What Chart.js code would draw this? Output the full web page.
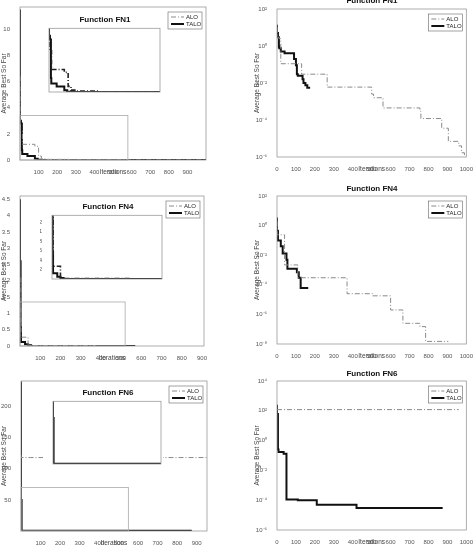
<!DOCTYPE html>
<html>
<head>
<meta charset="utf-8">
<script src="https://cdn.jsdelivr.net/npm/chart.js@4.4.0/dist/chart.umd.min.js"></script>
<style>
  body { margin: 0; background: #fff; width: 474px; height: 547px; position: relative; overflow: hidden; font-family: "Liberation Sans", Arial, sans-serif; }
  canvas { position: absolute; }
  .ttl { position: absolute; font-size: 8px; font-weight: bold; color: #111; transform: translateX(-50%); white-space: nowrap; z-index: 5; }
</style>
</head>
<body>
<div class="ttl" style="left:105px;top:15px">Function FN1</div>
<div class="ttl" style="left:372px;top:-4px">Function FN1</div>
<div class="ttl" style="left:108px;top:202px">Function FN4</div>
<div class="ttl" style="left:372px;top:184px">Function FN4</div>
<div class="ttl" style="left:108px;top:388px">Function FN6</div>
<div class="ttl" style="left:372px;top:369px">Function FN6</div>
<script>
// ---- data (iteration where the best-so-far value changes, and the value) ----
const fn1AloX = [0, 13, 80, 100, 115, 135, 260, 300, 1000];
const fn1AloY = [6.4, 2.2, 1.2, 1.05, 0.3, 0.1, 0.05, 0.0, 0.0];
const fn1TaloX = [0, 5, 10, 12, 40, 80, 95, 110, 120, 1000];
const fn1TaloY = [11.5, 3.0, 2.8, 0.75, 0.45, 0.3, 0.1, 0.02, 0.0, 0.0];

const fn1LogAloX = [0, 10, 20, 130, 265, 500, 510, 560, 755, 760, 870, 905, 960, 975, 990, 1000];
const fn1LogAloY = [10, 3, 2.5, 0.11, 0.03, 0.006, 0.0025, 0.0016, 4.5e-4, 3e-4, 1.2e-4, 3.6e-5, 7e-6, 4e-6, 1.7e-6, 1.2e-6];
const fn1LogTaloX = [0, 5, 10, 12, 20, 40, 90, 100, 105, 110, 135, 140, 150, 160, 170, 175];
const fn1LogTaloY = [14, 5, 3, 0.9, 0.75, 0.5, 0.4, 0.2, 0.09, 0.03, 0.025, 0.016, 0.01, 0.0075, 0.0055, 0.0055];

const fn4AloX = [5, 40, 110, 375];
const fn4AloY = [2.1, 0.27, 0.01, 0.01];
const fn4TaloX = [0, 3, 5, 25, 40, 55, 70, 570];
const fn4TaloY = [4.5, 2.6, 0.57, 0.12, 0.05, 0.02, 0.0, 0.0];

const fn4LogAloX = [0, 40, 110, 370, 505, 600, 665, 755, 785, 820, 905];
const fn4LogAloY = [1.9, 0.24, 0.0022, 3e-4, 2.5e-5, 1.8e-5, 2e-6, 2.5e-7, 1.5e-7, 1.5e-8, 1.5e-8];
const fn4LogTaloX = [0, 5, 20, 30, 50, 55, 105, 115, 125, 130, 165];
const fn4LogTaloY = [3.5, 0.45, 0.1, 0.04, 0.013, 0.005, 0.0012, 7e-4, 3e-4, 6e-5, 6e-5];

const fn6AloX = [0, 50, 955];
const fn6AloY = [122, 118, 118];
const fn6TaloX = [0, 3, 8, 875];
const fn6TaloY = [240, 50, 0.3, 0.3];

const fn6LogAloX = [0, 960];
const fn6LogAloY = [120, 120];
const fn6LogTaloX = [0, 5, 8, 35, 50, 110, 210, 420, 440, 875];
const fn6LogTaloY = [250, 60, 0.25, 0.17, 0.13, 1.1e-4, 1e-4, 5e-5, 3e-5, 3e-5];

// tick labels
const xTicksMain = [100, 200, 300, 400, 500, 600, 700, 800, 900];
const xTicksInset = [100, 200, 300, 400, 500];
const xTicksLog = [0, 100, 200, 300, 400, 500, 600, 700, 800, 900, 1000];
const yTicksFn1 = [0, 2, 4, 6, 8, 10];
const yTicksFn1Inset = [0, 1, 2, 3];
const yTicksFn4 = [0, 0.5, 1, 1.5, 2, 2.5, 3, 3.5, 4, 4.5];
const yTicksFn4Inset = [0.2, 0.4, 0.6, 0.8, 1, 1.2];
const yTicksFn6 = [50, 100, 150, 200];
const yTicksFn6Inset = [20, 40, 60];
const logTicks1 = [1e-6, 1e-4, 1e-2, 1, 1e2];
const logTicks4 = [1e-8, 1e-6, 1e-4, 1e-2, 1, 1e2];
const logTicks6 = [1e-6, 1e-4, 1e-2, 1, 1e2, 1e4];
const seriesNames = ['ALO', 'TALO'];

// ---- helpers ----
const FONT = '"Liberation Sans", Arial, sans-serif';
const zip = (xs, ys) => xs.map((x, i) => ({ x: x, y: ys[i] }));
const sup = { '-': '⁻', '0': '⁰', '1': '¹', '2': '²', '3': '³', '4': '⁴', '5': '⁵', '6': '⁶', '7': '⁷', '8': '⁸', '9': '⁹' };
const pow10 = v => '10' + String(Math.round(Math.log10(v))).split('').map(c => sup[c]).join('');

function aloSet(pts, inset) {
    return { label: 'ALO', data: pts, stepped: 'after', pointRadius: 0, fill: false,
        borderColor: inset ? '#222' : '#8a8a8a', borderWidth: inset ? 1.6 : 1, borderDash: [5, 2, 1, 2] };
}
function taloSet(pts) {
    return { label: 'TALO', data: pts, stepped: 'after', pointRadius: 0, fill: false,
        borderColor: '#111', borderWidth: 2 };
}

const boxPlugin = {
    id: 'box',
    beforeDraw(chart, args, opts) {
        if (opts.white) {
            const c = chart.ctx;
            c.save(); c.fillStyle = '#fff'; c.fillRect(0, 0, chart.width, chart.height); c.restore();
        }
    },
    afterDraw(chart, args, opts) {
        const c = chart.ctx, a = chart.chartArea;
        c.save();
        c.strokeStyle = '#9a9a9a'; c.lineWidth = 0.8;
        c.strokeRect(a.left, a.top, a.right - a.left, a.bottom - a.top);
        if (opts.zoomBox) {
            const xs = chart.scales.x, ys = chart.scales.y;
            const x1 = xs.getPixelForValue(0), x2 = xs.getPixelForValue(opts.zoomBox[0]);
            const y1 = ys.getPixelForValue(opts.zoomBox[1]), y2 = ys.getPixelForValue(0);
            c.strokeStyle = '#aaa'; c.lineWidth = 0.8;
            c.strokeRect(x1, y1, x2 - x1, y2 - y1);
        }
        if (opts.legend) {
            const w = 34, h = 17, lx = a.right - 4 - w, ly = a.top + 5;
            c.fillStyle = '#fff'; c.fillRect(lx, ly, w, h);
            c.strokeStyle = '#666'; c.lineWidth = 0.6; c.strokeRect(lx, ly, w, h);
            c.font = '6px ' + FONT; c.fillStyle = '#222'; c.textBaseline = 'middle';
            c.strokeStyle = '#8a8a8a'; c.lineWidth = 1; c.setLineDash([5, 2, 1, 2]);
            c.beginPath(); c.moveTo(lx + 3, ly + 5); c.lineTo(lx + 16, ly + 5); c.stroke();
            c.setLineDash([]); c.strokeStyle = '#111'; c.lineWidth = 2;
            c.beginPath(); c.moveTo(lx + 3, ly + 12); c.lineTo(lx + 16, ly + 12); c.stroke();
            c.fillText(seriesNames[0], lx + 18, ly + 5);
            c.fillText(seriesNames[1], lx + 18, ly + 12);
        }
        c.restore();
    }
};

// rect = plot area [left, top, width, height]; marg = [left, top, right, bottom]
function panel(rect, marg, datasets, xAx, yAx, opts, z) {
    const [pl, pt, pw, ph] = rect;
    const [mL, mT, mR, mB] = marg;
    const cv = document.createElement('canvas');
    cv.width = pw + mL + mR; cv.height = ph + mT + mB;
    cv.style.left = (pl - mL) + 'px'; cv.style.top = (pt - mT) + 'px';
    cv.style.zIndex = z;
    document.body.appendChild(cv);
    const tickFont = { family: FONT, size: opts.inset ? 5.5 : 6 };
    const fmt = xAx.log || yAx.log;
    new Chart(cv.getContext('2d'), {
        type: 'line',
        data: { datasets: datasets },
        options: {
            responsive: false, animation: false, parsing: false,
            layout: { padding: { top: mT, right: mR, left: 0, bottom: 0 } },
            plugins: { legend: { display: false }, tooltip: { enabled: false }, box: opts },
            scales: {
                x: {
                    type: 'linear', min: 0, max: xAx.max,
                    grid: { display: false }, border: { display: false },
                    afterBuildTicks: s => { s.ticks = xAx.ticks.map(v => ({ value: v })); },
                    ticks: { font: tickFont, color: '#555', maxRotation: 0, padding: 1, autoSkip: false, callback: v => String(v) },
                    title: { display: !opts.inset, text: 'Iterations', font: { family: FONT, size: 6.5 }, color: '#444', padding: 0 },
                    afterFit: s => { s.height = mB; }
                },
                y: {
                    type: yAx.log ? 'logarithmic' : 'linear', min: yAx.min, max: yAx.max,
                    grid: { display: false }, border: { display: false },
                    afterBuildTicks: s => { s.ticks = yAx.ticks.map(v => ({ value: v })); },
                    ticks: { font: tickFont, color: '#555', padding: 2, autoSkip: false,
                        callback: v => yAx.log ? pow10(v) : String(v) },
                    title: { display: !opts.inset, text: 'Average Best So Far', font: { family: FONT, size: 6.5 }, color: '#444', padding: 0 },
                    afterFit: s => { s.width = mL; }
                }
            }
        },
        plugins: [boxPlugin]
    });
}

// ---- FN1 ----
panel([20, 7, 186, 153], [20, 7, 2, 16],
    [aloSet(zip(fn1AloX, fn1AloY)), taloSet(zip(fn1TaloX, fn1TaloY))],
    { max: 1000, ticks: xTicksMain }, { min: 0, max: 11.7, ticks: yTicksFn1 },
    { legend: true, zoomBox: [580, 3.4] }, 1);
panel([49, 25, 111, 67], [9, 2, 2, 9],
    [aloSet(zip(fn1AloX, fn1AloY), true), taloSet(zip(fn1TaloX, fn1TaloY))],
    { max: 580, ticks: xTicksInset }, { min: 0, max: 3.4, ticks: yTicksFn1Inset },
    { inset: true, white: true }, 2);
panel([277, 9, 190, 148], [24, 6, 7, 16],
    [aloSet(zip(fn1LogAloX, fn1LogAloY)), taloSet(zip(fn1LogTaloX, fn1LogTaloY))],
    { max: 1000, ticks: xTicksLog }, { log: true, min: 1e-6, max: 1e2, ticks: logTicks1 }, { legend: true }, 1);

// ---- FN4 ----
panel([20, 196, 186, 150], [20, 6, 2, 16],
    [aloSet(zip(fn4AloX, fn4AloY)), taloSet(zip(fn4TaloX, fn4TaloY))],
    { max: 910, ticks: xTicksMain }, { min: 0, max: 4.6, ticks: yTicksFn4 },
    { legend: true, zoomBox: [520, 1.35] }, 1);
panel([52, 212, 110, 67], [12, 2, 2, 9],
    [aloSet(zip(fn4AloX, fn4AloY), true), taloSet(zip(fn4TaloX, fn4TaloY))],
    { max: 520, ticks: xTicksInset }, { min: 0, max: 1.35, ticks: yTicksFn4Inset },
    { inset: true, white: true }, 2);
panel([277, 196, 190, 148], [24, 6, 7, 16],
    [aloSet(zip(fn4LogAloX, fn4LogAloY)), taloSet(zip(fn4LogTaloX, fn4LogTaloY))],
    { max: 1000, ticks: xTicksLog }, { log: true, min: 1e-8, max: 1e2, ticks: logTicks4 }, { legend: true }, 1);

// ---- FN6 ----
panel([21, 381, 186, 150], [21, 6, 2, 16],
    [aloSet(zip(fn6AloX, fn6AloY)), taloSet(zip(fn6TaloX, fn6TaloY))],
    { max: 953, ticks: xTicksMain }, { min: 0, max: 241, ticks: yTicksFn6 },
    { legend: true, zoomBox: [550, 70] }, 1);
panel([53, 398, 108, 66], [10, 2, 2, 9],
    [aloSet(zip(fn6AloX, fn6AloY), true), taloSet(zip(fn6TaloX, fn6TaloY))],
    { max: 550, ticks: xTicksInset }, { min: 0, max: 68, ticks: yTicksFn6Inset },
    { inset: true, white: true }, 2);
panel([277, 381, 190, 149], [24, 6, 7, 16],
    [aloSet(zip(fn6LogAloX, fn6LogAloY)), taloSet(zip(fn6LogTaloX, fn6LogTaloY))],
    { max: 1000, ticks: xTicksLog }, { log: true, min: 1e-6, max: 1e4, ticks: logTicks6 }, { legend: true }, 1);
</script>
</body>
</html>
